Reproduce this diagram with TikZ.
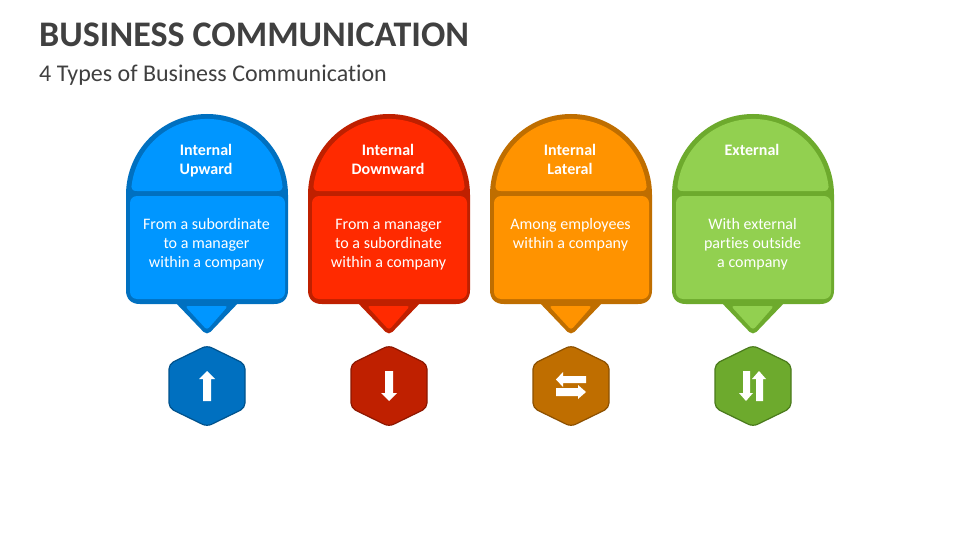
\documentclass[tikz,border=0pt]{standalone}
\usepackage{fontspec}
\setmainfont[Ligatures=NoCommon]{Carlito}
\definecolor{blueF}{HTML}{0096FF}\definecolor{blueD}{HTML}{0070C0}\definecolor{blueE}{HTML}{00528C}
\definecolor{redF}{HTML}{FF2A00}\definecolor{redD}{HTML}{BF2000}\definecolor{redE}{HTML}{8C1700}
\definecolor{orgF}{HTML}{FF9300}\definecolor{orgD}{HTML}{BF6E00}\definecolor{orgE}{HTML}{8C5000}
\definecolor{grnF}{HTML}{92D050}\definecolor{grnD}{HTML}{6DAA2D}\definecolor{grnE}{HTML}{4A7A1C}
\definecolor{ink}{HTML}{404040}
\tikzset{
  x=1pt,y=1pt,
  headtxt/.style={text=white,font=\fontsize{16}{19}\selectfont\bfseries,align=center,anchor=north,inner sep=0pt},
  bodytxt/.style={text=white,font=\fontsize{16}{19}\selectfont,align=center,anchor=north,inner sep=0pt},
  icon/.style={fill=white,draw=none}
}
\newcommand{\tl}{\rule{0pt}{12pt}}
% #1 centre x, #2 fill, #3 dark, #4 edge, #5 name, #6 head, #7 body, #8 icon
\newcommand{\card}[8]{%
\begin{scope}[shift={(#1,0)}]
  % pointer
  \fill[#3,rounded corners=5] (-34,-300) -- (34,-300) -- (0,-335.5) -- cycle;
  \fill[#2,rounded corners=3] (-22,-306) -- (21,-306) -- (0,-330) -- cycle;
  % outer shape
  \fill[#3] (-81,-195) arc[start angle=180,end angle=0,radius=81]
     -- (81,-290) .. controls (81,-299) and (76,-304) .. (67,-304) -- (-67,-304)
     .. controls (-76,-304) and (-81,-299) .. (-81,-290) -- cycle;
  % upper panel
  \fill[#2] (-70,-191) -- (70,-191) .. controls (74,-191) and (75.6,-189.5) .. (75.6,-187)
     arc[start angle=6,end angle=174,radius=76]
     .. controls (-75.6,-189.5) and (-74,-191) .. (-70,-191) -- cycle;
  % lower panel
  \fill[#2,rounded corners=7] (-77,-196) rectangle (78,-299);
  % hexagon
  \filldraw[fill=#3,draw=#4,line width=1.2pt,rounded corners=5]
     (0,-345.5) -- (38,-364) -- (38,-408) -- (0,-426.5) -- (-38,-408) -- (-38,-364) -- cycle;
  #8
  \node[headtxt] (head#5) at (-1,-143) {\tl #6};
  \node[bodytxt] (body#5) at (-0.5,-217.5) {\tl #7};
\end{scope}}
\begin{document}
\begin{tikzpicture}
\useasboundingbox (0,-540) rectangle (960,0);
\fill[white] (0,-540) rectangle (960,0);
\node[anchor=base west,inner sep=0pt,text=ink,font=\fontsize{36}{40}\selectfont\bfseries] (title) at (39,-46.5) {BUSINESS COMMUNICATION};
\node[anchor=base west,inner sep=0pt,text=ink,font=\fontsize{24}{28}\selectfont] (subtitle) at (39,-82) {4 Types of Business Communication};
\card{207}{blueF}{blueD}{blueE}{A}{Internal\\Upward}{From a subordinate\\to a manager\\within a company}{%
  \fill[icon] (-4,-401) -- (-4,-379) -- (-8,-379) -- (0,-371) -- (8,-379) -- (4,-379) -- (4,-401) -- cycle;}
\card{389}{redF}{redD}{redE}{B}{Internal\\Downward}{From a manager\\to a subordinate\\within a company}{%
  \fill[icon] (-4,-371) -- (-4,-393) -- (-8,-393) -- (0,-401) -- (8,-393) -- (4,-393) -- (4,-371) -- cycle;}
\card{571}{orgF}{orgD}{orgE}{C}{Internal\\Lateral}{Among employees\\within a company}{%
  \fill[icon] (-15,-379.5) -- (-8,-372) -- (-8,-376) -- (15,-376) -- (15,-383) -- (-8,-383) -- (-8,-387) -- cycle;
  \fill[icon] (15,-392) -- (7,-385) -- (7,-388) -- (-15,-388) -- (-15,-396) -- (7,-396) -- (7,-399) -- cycle;}
\card{753}{grnF}{grnD}{grnE}{D}{External}{With external\\parties outside\\a company}{%
  \fill[icon] (-10,-371) -- (-3,-371) -- (-3,-393) -- (0,-393) -- (-7,-401) -- (-14,-393) -- (-10,-393) -- cycle;
  \fill[icon] (3,-401) -- (10,-401) -- (10,-379) -- (13,-379) -- (6,-371) -- (-1,-379) -- (3,-379) -- cycle;}
\end{tikzpicture}
\end{document}
